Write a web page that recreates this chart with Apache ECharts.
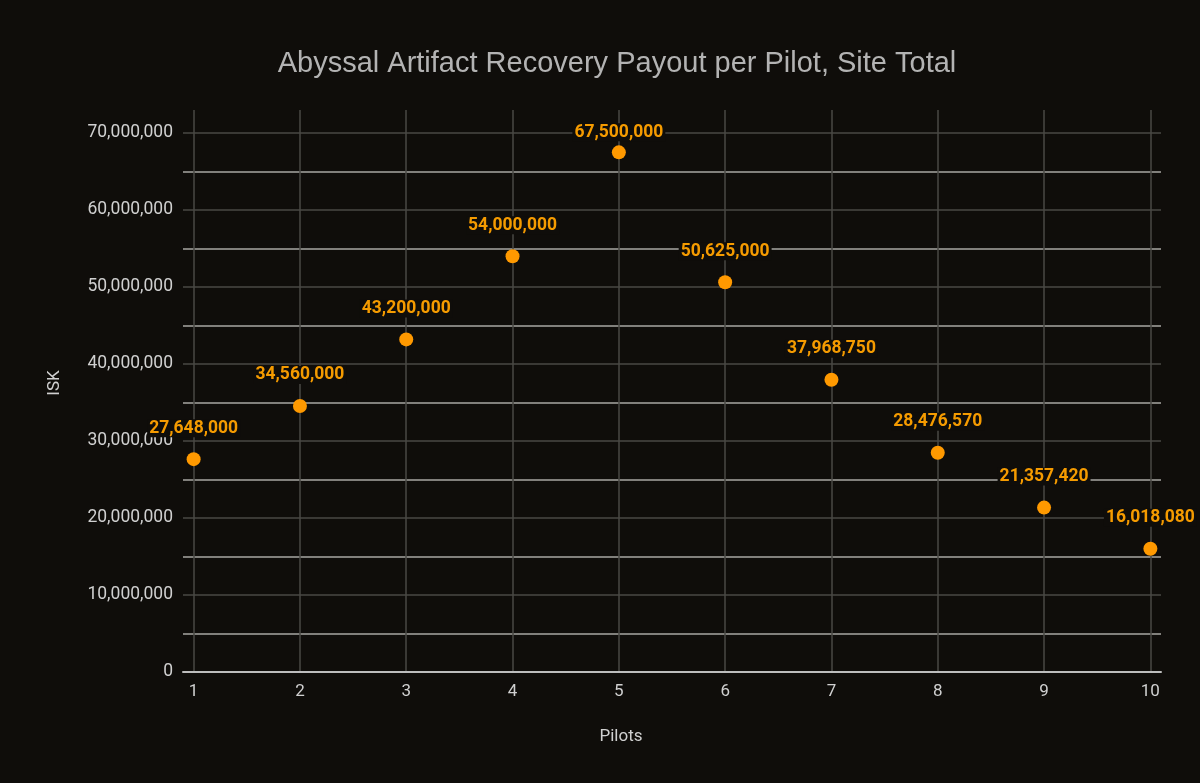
<!DOCTYPE html>
<html>
<head>
<meta charset="utf-8">
<title>Abyssal Artifact Recovery Payout</title>
<script src="https://cdn.jsdelivr.net/npm/echarts@6/dist/echarts.min.js"></script>
<style>
  html, body { margin: 0; padding: 0; background: #0f0d0a; }
  #chart { width: 1200px; height: 783px; }
</style>
</head>
<body>
<div id="chart"></div>
<script>
// pilots on the x axis, payout (ISK) on the y axis
const pilots = [1, 2, 3, 4, 5, 6, 7, 8, 9, 10]
const payouts = [27648000, 34560000, 43200000, 54000000, 67500000, 50625000, 37968750, 28476570, 21357420, 16018080]
const xTicks = [1, 2, 3, 4, 5, 6, 7, 8, 9, 10]

const chart = echarts.init(document.getElementById('chart'))

const fmt = v => Math.round(v).toLocaleString('en-US')

const points = pilots.map((p, i) => ({
  value: [p, payouts[i]],
  // the highest label sits closer to its point so it stays under the top edge
  label: { distance: payouts[i] > 65000000 ? 4 : 15 }
}))

const option = {
  backgroundColor: '#0f0d0a',
  textStyle: { fontFamily: 'Roboto' },
  title: {
    text: 'Abyssal Artifact Recovery Payout per Pilot, Site Total',
    left: 612,
    textAlign: 'center',
    top: 44,
    textStyle: { color: '#b3b3b3', fontSize: 29, fontWeight: 'normal', fontFamily: 'Liberation Sans' }
  },
  grid: { left: 183, right: 39, top: 110, bottom: 111 },
  xAxis: {
    type: 'value',
    min: 0.9,
    max: 10.1,
    name: 'Pilots',
    nameLocation: 'middle',
    nameGap: 56,
    nameTextStyle: { color: '#d0d0d0', fontSize: 17, padding: [0, 102, 0, 0] },
    axisLine: { show: true, lineStyle: { color: '#bdbdbd', width: 2 } },
    axisTick: { show: false, customValues: xTicks },
    axisLabel: { customValues: xTicks, color: '#d0d0d0', fontSize: 17, margin: 11 },
    splitLine: { show: true, lineStyle: { color: '#4a4845', width: 1.5 } }
  },
  yAxis: {
    type: 'value',
    min: 0,
    max: 73000000,
    interval: 5000000,
    name: 'ISK',
    nameLocation: 'middle',
    nameGap: 120,
    nameTextStyle: { color: '#d0d0d0', fontSize: 17, padding: [0, 0, 0, 16] },
    axisLine: { show: false },
    axisTick: { show: false },
    axisLabel: {
      color: '#d0d0d0',
      fontSize: 17.5,
      margin: 10,
      formatter: v => (v % 10000000 === 0 ? fmt(v) : '')
    },
    splitLine: {
      show: true,
      showMaxLine: false,
      lineStyle: { color: ['#4a4845', '#a9a7a3'], width: 1.5 }
    }
  },
  series: [
    {
      type: 'scatter',
      data: points,
      symbolSize: 14,
      itemStyle: { color: '#ff9900', opacity: 1 },
      label: {
        show: true,
        position: 'top',
        color: '#f59b00',
        fontSize: 17.5,
        fontWeight: 'bold',
        backgroundColor: '#0f0d0a',
        padding: [0, 2],
        formatter: p => fmt(p.value[1])
      },
      z: 5
    }
  ]
}

chart.setOption(option)
</script>
</body>
</html>
